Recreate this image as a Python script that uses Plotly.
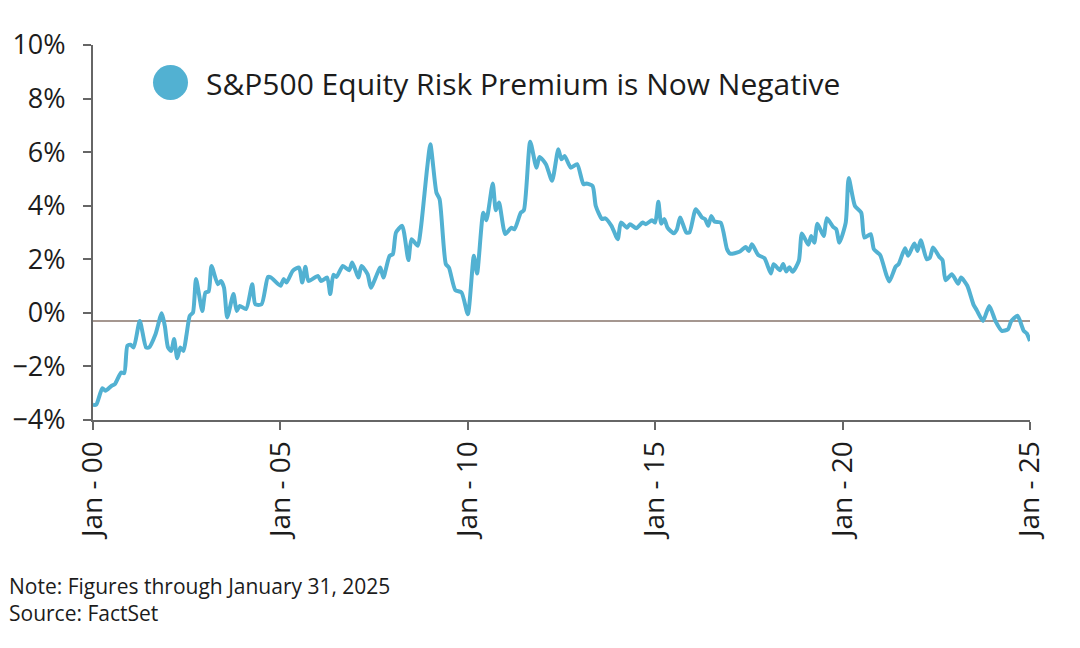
import plotly.graph_objects as go

# Monthly points (YYYY-MM, equity risk premium %)
dates = [
    "2000-01", "2000-02", "2000-04", "2000-05", "2000-07", "2000-08", "2000-10", "2000-11", "2000-12",
    "2001-01", "2001-02", "2001-04", "2001-06", "2001-07", "2001-09", "2001-11", "2001-12",
    "2002-01", "2002-02", "2002-03", "2002-04", "2002-05", "2002-06", "2002-07", "2002-08", "2002-09", "2002-10", "2002-12",
    "2003-01", "2003-02", "2003-03", "2003-05", "2003-06", "2003-07", "2003-08", "2003-10", "2003-11", "2003-12",
    "2004-02", "2004-04", "2004-05", "2004-07", "2004-09", "2004-10",
    "2005-01", "2005-02", "2005-03", "2005-05", "2005-07", "2005-08", "2005-09", "2005-10",
    "2006-01", "2006-02", "2006-04", "2006-05", "2006-06", "2006-07", "2006-09", "2006-11", "2006-12",
    "2007-02", "2007-03", "2007-05", "2007-06", "2007-09", "2007-10", "2007-12",
    "2008-01", "2008-02", "2008-04", "2008-06", "2008-07", "2008-09", "2008-10", "2008-12",
    "2009-01", "2009-03", "2009-04", "2009-06", "2009-07", "2009-09", "2009-11",
    "2010-01", "2010-03", "2010-04", "2010-06", "2010-07", "2010-09", "2010-10", "2010-11",
    "2011-01", "2011-03", "2011-04", "2011-06", "2011-07", "2011-09", "2011-11", "2011-12",
    "2012-02", "2012-04", "2012-06", "2012-07", "2012-08", "2012-10", "2012-12",
    "2013-02", "2013-03", "2013-05", "2013-06", "2013-08", "2013-09", "2013-11",
    "2014-01", "2014-02", "2014-04", "2014-05", "2014-07", "2014-09", "2014-10", "2014-12",
    "2015-01", "2015-02", "2015-03", "2015-04", "2015-05", "2015-07", "2015-08", "2015-09", "2015-11", "2015-12",
    "2016-02", "2016-04", "2016-05", "2016-06", "2016-07", "2016-08", "2016-10", "2016-12",
    "2017-01", "2017-04", "2017-06", "2017-07", "2017-08", "2017-10", "2017-12",
    "2018-02", "2018-03", "2018-05", "2018-06", "2018-07", "2018-08", "2018-09", "2018-11", "2018-12",
    "2019-02", "2019-03", "2019-04", "2019-05", "2019-07", "2019-08", "2019-10", "2019-11", "2019-12",
    "2020-02", "2020-03", "2020-05", "2020-07", "2020-08", "2020-10", "2020-11",
    "2021-01", "2021-03", "2021-04", "2021-06", "2021-07", "2021-09", "2021-10", "2021-12",
    "2022-01", "2022-02", "2022-04", "2022-05", "2022-06", "2022-08", "2022-09", "2022-10", "2022-12",
    "2023-02", "2023-03", "2023-05", "2023-07", "2023-08", "2023-10", "2023-12",
    "2024-02", "2024-04", "2024-06", "2024-07", "2024-09", "2024-11", "2024-12",
    "2025-01",
]
erp = [
    -3.43, -3.43, -2.81, -2.91, -2.72, -2.66, -2.23, -2.25, -1.23,
    -1.19, -1.29, -0.30, -1.29, -1.29, -0.80, -0.01, -0.49,
    -1.29, -1.42, -0.98, -1.69, -1.29, -1.42, -0.80, -0.11, 0.01, 1.26, 0.07,
    0.76, 0.80, 1.75, 1.07, 1.19, 0.94, -0.17, 0.70, 0.07, 0.26,
    0.14, 1.07, 0.32, 0.32, 1.34, 1.32,
    1.01, 1.26, 1.13, 1.57, 1.69, 1.13, 1.72, 1.19,
    1.38, 1.19, 1.32, 0.70, 1.42, 1.34, 1.75, 1.59, 1.88,
    1.32, 1.75, 1.44, 0.94, 1.69, 1.32, 2.13,
    2.19, 3.00, 3.25, 1.97, 2.75, 2.50, 3.18, 5.42,
    6.29, 4.49, 4.24, 1.82, 1.69, 0.85, 0.76,
    -0.05, 2.13, 1.47, 3.74, 3.46, 4.83, 3.83, 4.12,
    2.94, 3.18, 3.12, 3.74, 3.83, 6.39, 5.42, 5.82,
    5.55, 4.93, 6.11, 5.73, 5.86, 5.42, 5.55,
    4.80, 4.83, 4.74, 3.99, 3.50, 3.53, 3.25,
    2.75, 3.37, 3.18, 3.31, 3.16, 3.37, 3.31, 3.46,
    3.37, 4.15, 3.33, 3.50, 3.18, 2.97, 3.12, 3.56, 3.00, 3.00,
    3.87, 3.56, 3.50, 3.25, 3.62, 3.41, 3.37, 2.38,
    2.21, 2.28, 2.46, 2.31, 2.56, 2.16, 2.04,
    1.47, 1.82, 1.59, 1.82, 1.54, 1.70, 1.53, 1.94, 2.96,
    2.54, 2.87, 2.62, 3.33, 2.87, 3.53, 3.21, 3.12, 2.62,
    3.37, 5.03, 3.99, 3.74, 2.81, 2.94, 2.38,
    2.16, 1.44, 1.17, 1.72, 1.82, 2.41, 2.13, 2.59,
    2.31, 2.71, 2.00, 2.06, 2.44, 2.09, 1.97, 1.22, 1.44,
    1.09, 1.32, 1.01, 0.30, 0.10, -0.30, 0.26,
    -0.32, -0.67, -0.61, -0.32, -0.11, -0.67, -0.77,
    -1.05,
]
ref_level = -0.3

tick_dates = ["2000-01-01", "2005-01-01", "2010-01-01", "2015-01-01", "2020-01-01", "2025-01-01"]
tick_labels = ["Jan - 00", "Jan - 05", "Jan - 10", "Jan - 15", "Jan - 20", "Jan - 25"]
y_ticks = [-4, -2, 0, 2, 4, 6, 8, 10]
y_labels = ["\u22124%", "\u22122%", "0%", "2%", "4%", "6%", "8%", "10%"]

series_name = "S&P500 Equity Risk Premium is Now Negative"
note_text = "Note: Figures through January 31, 2025<br>Source: FactSet"

LINE_COLOR = "#52b1d2"
AXIS_COLOR = "#666666"
TEXT_COLOR = "#1c1c1c"
FONT = "'Open Sans', 'Noto Sans', sans-serif"

fig = go.Figure()
fig.add_trace(go.Scatter(
    x=[d + "-01" for d in dates], y=erp, mode="lines",
    line=dict(color=LINE_COLOR, width=4, shape="spline", smoothing=0.6),
    showlegend=False, hoverinfo="x+y",
))

fig.add_shape(type="line", xref="paper", x0=0, x1=1, yref="y", y0=ref_level, y1=ref_level,
              line=dict(color="#a59790", width=2), layer="below")

# legend-like marker and label
fig.add_shape(type="circle", xref="paper", yref="paper",
              x0=(153 - 93) / 937, x1=(188 - 93) / 937,
              y0=(420 - 100) / 375, y1=(420 - 65) / 375,
              fillcolor=LINE_COLOR, line=dict(width=0))
fig.add_annotation(xref="paper", yref="paper", x=(204 - 93) / 937, y=(420 - 83) / 375,
                   text=series_name, showarrow=False, xanchor="left", yanchor="middle",
                   font=dict(size=30, color=TEXT_COLOR, family=FONT))

fig.add_annotation(xref="paper", yref="paper", x=(7 - 93) / 937, y=(420 - 570) / 375,
                   text=note_text, showarrow=False, xanchor="left", yanchor="top", align="left",
                   font=dict(size=21, color=TEXT_COLOR, family=FONT))

fig.update_layout(
    width=1080, height=648,
    margin=dict(l=93, r=50, t=45, b=228),
    paper_bgcolor="white", plot_bgcolor="white",
    font=dict(family=FONT, color=TEXT_COLOR),
    xaxis=dict(
        type="date", range=["2000-01-01", "2025-01-01"],
        tickvals=tick_dates, ticktext=tick_labels, tickangle=-90,
        showgrid=False, zeroline=False,
        showline=True, linecolor=AXIS_COLOR, linewidth=2,
        ticks="outside", ticklen=8, tickcolor=AXIS_COLOR, tickwidth=2,
        tickfont=dict(size=28, color=TEXT_COLOR, family=FONT),
    ),
    yaxis=dict(
        range=[-4, 10], tickvals=y_ticks, ticktext=y_labels,
        showgrid=False, zeroline=False,
        showline=True, linecolor=AXIS_COLOR, linewidth=2,
        ticks="outside", ticklen=8, tickcolor=AXIS_COLOR, tickwidth=2,
        ticklabelstandoff=12,
        tickfont=dict(size=27, color=TEXT_COLOR, family=FONT),
    ),
)

fig.write_html("out.html")
